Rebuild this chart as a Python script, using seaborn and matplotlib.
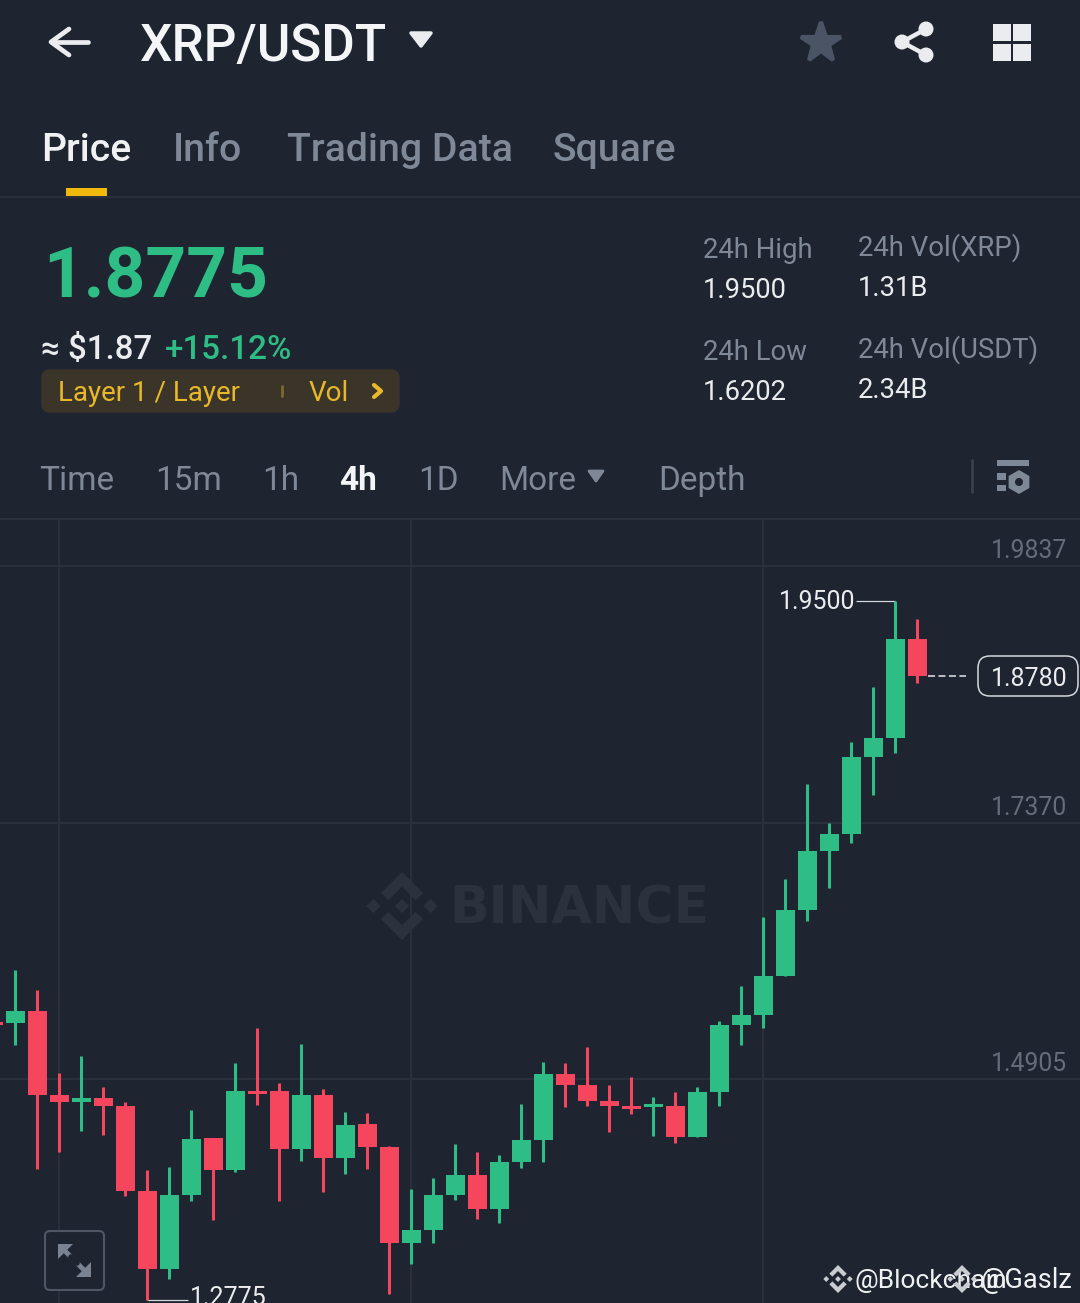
import numpy as np
import pandas as pd
import matplotlib
matplotlib.use("Agg")
import matplotlib.pyplot as plt
from matplotlib.patches import FancyBboxPatch, Polygon, Circle, Rectangle, RegularPolygon
import seaborn as sns

BG = "#1e2430"
GRID = "#2e343f"
UP = "#2ebd85"
DOWN = "#f6465d"
MUTED = "#7f8896"
FAINT = "#656d7a"
LIGHT = "#eaecef"
YELLOW = "#e9b82a"

# 4h candles, first one is cut off by the left edge
candle_idx = list(range(-1, 42))
candle_open = [1.5452, 1.5446, 1.5558, 1.4753, 1.4683, 1.4725, 1.4648, 1.3830, 1.3075, 1.3792, 1.4334, 1.4027,
               1.4792, 1.4789, 1.4228, 1.4751, 1.4142, 1.4469, 1.4251, 1.3325, 1.3455, 1.3792, 1.3984, 1.3657,
               1.4109, 1.4321, 1.4955, 1.4844, 1.4696, 1.4645, 1.4638, 1.4648, 1.4344, 1.4776, 1.5421, 1.5520,
               1.5895, 1.6532, 1.7100, 1.7257, 1.8004, 1.8186, 1.9132]
candle_close = [1.5424, 1.5558, 1.4753, 1.4683, 1.4725, 1.4648, 1.3830, 1.3075, 1.3789, 1.4327, 1.4027, 1.4792,
                1.4763, 1.4228, 1.4751, 1.4142, 1.4465, 1.4251, 1.3325, 1.3452, 1.3792, 1.3984, 1.3657, 1.4106,
                1.4318, 1.4952, 1.4844, 1.4693, 1.4645, 1.4619, 1.4667, 1.4344, 1.4776, 1.5421, 1.5520, 1.5895,
                1.6529, 1.7100, 1.7257, 1.8004, 1.8186, 1.9132, 1.8780]
candle_high = [1.5460, 1.5952, 1.5760, 1.4965, 1.5128, 1.4827, 1.4683, 1.4032, 1.4061, 1.4606, 1.4340, 1.5061,
               1.5392, 1.4866, 1.5241, 1.4805, 1.4587, 1.4575, 1.4263, 1.3850, 1.3955, 1.4279, 1.4200, 1.4174,
               1.4664, 1.5065, 1.5061, 1.5215, 1.4844, 1.4924, 1.4728, 1.4776, 1.4830, 1.5465, 1.5799, 1.6459,
               1.6830, 1.7744, 1.7363, 1.8148, 1.8671, 1.9500, 1.9330]
candle_low = [1.5410, 1.5228, 1.4036, 1.4205, 1.4401, 1.4363, 1.3782, 1.2775, 1.2984, 1.3728, 1.3552, 1.4013,
              1.4651, 1.3734, 1.4113, 1.3821, 1.3988, 1.4042, 1.2834, 1.3128, 1.3325, 1.3741, 1.3561, 1.3523,
              1.4052, 1.4103, 1.4638, 1.4648, 1.4398, 1.4571, 1.4359, 1.4289, 1.4344, 1.4648, 1.5231, 1.5392,
              1.5895, 1.6427, 1.6738, 1.7176, 1.7636, 1.8042, 1.8712]

grid_prices = [1.9837, 1.7370, 1.4905]
grid_candles = [2, 18, 34]
session_high = 1.9500
session_low = 1.2775
last_price = 1.8780

tabs = ["Price", "Info", "Trading Data", "Square"]
tab_x = [41, 173, 287, 553]
intervals = ["Time", "15m", "1h", "4h", "1D", "More", "Depth"]
interval_x = [39, 155, 262, 339, 418, 499, 658]

df = pd.DataFrame({"idx": candle_idx, "open": candle_open, "close": candle_close,
                   "high": candle_high, "low": candle_low})
df["up"] = df["close"] >= df["open"]
df["body_low"] = df[["open", "close"]].min(axis=1)
df["body"] = (df["open"] - df["close"]).abs()
wicks = df.melt(id_vars=["idx", "up"], value_vars=["low", "high"], value_name="price")

sns.set_theme(style="dark", rc={"figure.facecolor": BG, "axes.facecolor": BG, "savefig.facecolor": BG})
plt.rcParams["font.family"] = ["Roboto", "DejaVu Sans"]

fig = plt.figure(figsize=(10.8, 13.03), dpi=100)
ax = fig.add_axes([0, 0, 1, 1])

for is_up, colour in [(True, UP), (False, DOWN)]:
    part = df[df["up"] == is_up]
    sns.lineplot(data=wicks[wicks["up"] == is_up], x="idx", y="price", units="idx", estimator=None,
                 color=colour, linewidth=2.2, solid_capstyle="butt", legend=False, ax=ax, zorder=3)
    sns.barplot(data=part, x="idx", y="body", bottom=part["body_low"].to_numpy(), native_scale=True,
                color=colour, saturation=1, width=0.88, errorbar=None, linewidth=0, ax=ax, zorder=4)

# 22 px per candle, 1040 px per price unit
ax.set_xlim(-0.7, 48.39)
ax.set_ylim(1.2750, 2.5279)
chart_top = 2.0289
for p in grid_prices:
    ax.axhline(p, color=GRID, lw=1.1, zorder=1)
    ax.annotate(f"{p:.4f}", xy=(1, p), xycoords=ax.get_yaxis_transform(), xytext=(-13, 8),
                textcoords="offset pixels", ha="right", va="baseline", color=FAINT, fontsize=17.8)
ax.vlines(grid_candles, 1.2750, chart_top, color=GRID, lw=1.1, zorder=1)
ax.set_axis_off()

# high / low / last price markers
hi_i = df.loc[df["high"].idxmax(), "idx"]
lo_i = df.loc[df["low"].idxmin(), "idx"]
ax.hlines(session_high, hi_i - 1.77, hi_i, color="#d5d8dc", lw=0.9, zorder=2)
ax.annotate(f"{session_high:.4f}", xy=(hi_i - 1.81, session_high), xytext=(0, -1),
            textcoords="offset pixels", ha="right", va="center", color=LIGHT, fontsize=18)
ax.hlines(session_low, lo_i, lo_i + 1.85, color="#d5d8dc", lw=0.9, zorder=2)
ax.annotate(f"{session_low:.4f}", xy=(lo_i + 1.93, session_low), xytext=(0, -5),
            textcoords="offset pixels", ha="left", va="baseline", color=LIGHT, fontsize=18,
            annotation_clip=False)
ax.hlines(last_price, 41.5, 43.22, color="#c8ccd1", lw=1.3, linestyles=(0, (3.9, 1.9)), zorder=2)

# ---- screen furniture, in image pixels ----
ui = fig.add_axes([0, 0, 1, 1], frameon=False)
ui.set_xlim(0, 1080)
ui.set_ylim(1303, 0)
ui.set_axis_off()


def label(x, y, s, color=MUTED, size=22, weight="normal", ha="left", **kws):
    ui.text(x, y, s, color=color, fontsize=size, fontweight=weight, ha=ha, va="baseline", **kws)


def poly(points, color, round_px=0.0, z=5):
    ui.add_patch(Polygon(points, closed=True, fc=color, ec=color, lw=round_px, joinstyle="round", zorder=z))


def binance_logo(cx, cy, r, color):
    # centre + side diamonds, top and bottom chevrons
    d = r * 0.21
    for ox, oy in [(0, 0), (-r * 0.84, 0), (r * 0.84, 0)]:
        poly([(cx + ox - d, cy + oy), (cx + ox, cy + oy - d), (cx + ox + d, cy + oy), (cx + ox, cy + oy + d)], color)
    for s in (-1, 1):
        poly([(cx, cy + s * r), (cx + r * 0.62, cy + s * r * 0.38), (cx + r * 0.40, cy + s * r * 0.17),
              (cx, cy + s * r * 0.57), (cx - r * 0.40, cy + s * r * 0.17), (cx - r * 0.62, cy + s * r * 0.38)], color)


# header
ui.plot([52, 88], [42, 42], color=LIGHT, lw=3.4, solid_capstyle="round")
ui.plot([69, 51, 69], [29, 42, 55], color=LIGHT, lw=3.4, solid_capstyle="round", solid_joinstyle="round")
label(140, 61, "XRP/USDT", "#f4f5f6", 37, "medium")
poly([(411, 33), (431, 33), (421, 46)], LIGHT, 2.5)

ui.plot([821], [43], marker="*", ms=30, color="#4a5464", mec="#4a5464", mew=3, mfc="#4a5464")
share = [(902, 42), (926, 29), (926, 55)]
ui.plot([926, 902, 926], [29, 42, 55], color=LIGHT, lw=3.2)
for c in share:
    ui.add_patch(Circle(c, 7.5, fc=LIGHT, ec="none"))
for sx, sy in [(993, 24), (1013, 24), (993, 44), (1013, 44)]:
    ui.add_patch(Rectangle((sx, sy), 18, 17, fc=LIGHT, ec="none"))

for i, (t, x) in enumerate(zip(tabs, tab_x)):
    label(x, 161, t, "#f0f1f2" if i == 0 else MUTED, 28.2, "medium")
ui.add_patch(Rectangle((66, 188), 41, 8, fc="#f0b90b", ec="none"))
ui.plot([0, 1080], [197, 197], color=GRID, lw=1.1)

# price block
label(43, 298, "1.8775", UP, 51.3, "bold")
label(41, 359, "≈ $1.87", LIGHT, 23.8, "medium")
label(165, 359, "+15.12%", UP, 23.9, "medium")
ui.add_patch(FancyBboxPatch((49, 377), 343, 28, boxstyle="round,pad=0,rounding_size=0", fc="#3a3528",
                            ec="#3a3528", lw=11, joinstyle="round"))
label(58, 401, "Layer 1 / Layer", YELLOW, 20)
ui.plot([282, 282], [386, 396], color="#7d6a2a", lw=2)
label(309, 401, "Vol", YELLOW, 20)
ui.plot([374, 381, 374], [385, 391, 397], color=YELLOW, lw=3)

stat_rows = [(703, 258, "24h High", 298, "1.9500"), (858, 256, "24h Vol(XRP)", 296, "1.31B"),
             (703, 360, "24h Low", 400, "1.6202"), (858, 358, "24h Vol(USDT)", 398, "2.34B")]
for x, y1, head, y2, val in stat_rows:
    label(x, y1, head, MUTED, 19.8)
    label(x, y2, val, LIGHT, 19.7)

# interval row
for t, x in zip(intervals, interval_x):
    if t == "4h":
        label(x, 490, t, "#f4f5f6", 24, "bold")
    else:
        label(x, 490, t, MUTED, 24)
poly([(589, 471), (603, 471), (596, 481)], MUTED, 2)
ui.plot([972, 972], [460, 492], color="#3a414d", lw=2)
ui.add_patch(Rectangle((997, 460), 32, 6, fc=MUTED, ec="none"))
ui.add_patch(Rectangle((997, 473), 9, 7, fc=MUTED, ec="none"))
ui.add_patch(Rectangle((997, 485), 9, 6, fc=MUTED, ec="none"))
ui.add_patch(RegularPolygon((1019, 482), 6, radius=12, fc=MUTED, ec="none"))
ui.add_patch(Circle((1019, 482), 4, fc=BG, ec="none", zorder=5))
ui.plot([0, 1080], [519, 519], color=GRID, lw=1.3)

# last price box
ui.add_patch(FancyBboxPatch((978, 656), 100, 40, boxstyle="round,pad=0,rounding_size=12", fc=BG,
                            ec="#d5d8dc", lw=1.1, zorder=6))
ui.text(1029, 686, f"{last_price:.4f}", color=LIGHT, fontsize=18, ha="center", va="baseline", zorder=7)

# chart watermark
binance_logo(402, 906, 34, "#2c323d")
label(449, 923, "BINANCE", "#2c323d", 37.5, "bold", family="DejaVu Sans")

# expand button
ui.add_patch(FancyBboxPatch((45, 1231), 59, 59, boxstyle="round,pad=0,rounding_size=5", fc=BG,
                            ec="#4f5764", lw=1.5, zorder=6))
poly([(58, 1244), (73, 1244), (58, 1259)], "#7a8392", z=7)
poly([(91, 1277), (76, 1277), (91, 1262)], "#7a8392", z=7)
ui.plot([62, 87], [1248, 1273], color="#7a8392", lw=3.5, zorder=7)
ui.plot([71, 77], [1257, 1263], color=BG, lw=4, zorder=7)

# post watermarks, overlapping
binance_logo(838, 1279, 14, "#c9ccd1")
label(855, 1288, "@Blockchain", "#f0f1f2", 19)
binance_logo(962, 1279, 14, "#c9ccd1")
label(981, 1288, "@Gaslz", "#f0f1f2", 19.5)

fig.savefig("out.png", dpi=100, facecolor=BG)
